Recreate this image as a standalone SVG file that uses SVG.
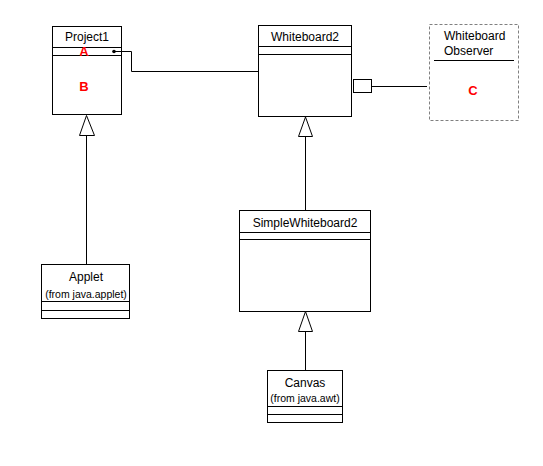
<svg xmlns="http://www.w3.org/2000/svg" width="543" height="466" viewBox="0 0 543 466">
<style>
.box{fill:#fff;stroke:#000;stroke-width:1}
.ln{stroke:#000;stroke-width:1;fill:none}
.t{font-family:"Liberation Sans",Arial,sans-serif;font-size:12px;fill:#000}
.s{font-family:"Liberation Sans",Arial,sans-serif;font-size:10.5px;fill:#000}
.r{font-family:"Liberation Sans",Arial,sans-serif;font-size:13px;font-weight:bold;fill:#f00}
.tri{fill:#fff;stroke:#000;stroke-width:1}
</style>
<rect x="0" y="0" width="543" height="466" fill="#fff"/>
<g id="project1">
<rect class="box" x="52.5" y="26.5" width="69" height="88"/>
<path class="ln" d="M52.5 47.5 H121.5 M52.5 55.5 H121.5"/>
<text class="t" x="87" y="41" text-anchor="middle">Project1</text>
<text class="r" x="84" y="56" text-anchor="middle">A</text>
<text class="r" x="84" y="91" text-anchor="middle">B</text>
</g>
<g id="whiteboard2">
<rect class="box" x="258.5" y="25.5" width="93" height="91"/>
<path class="ln" d="M258.5 46.5 H351.5 M258.5 54.5 H351.5"/>
<text class="t" x="305" y="41" text-anchor="middle">Whiteboard2</text>
</g>
<g id="whiteboardObserver">
<rect x="429.5" y="24.5" width="89" height="96" fill="#fff" stroke="#808080" stroke-width="1" stroke-dasharray="3,2"/>
<path class="ln" d="M434 60.5 H514"/>
<text class="t" x="444" y="40">Whiteboard</text>
<text class="t" x="444" y="55">Observer</text>
<text class="r" x="473" y="95" text-anchor="middle">C</text>
</g>
<g id="applet">
<rect class="box" x="41.5" y="264.5" width="88" height="54"/>
<path class="ln" d="M41.5 301.5 H129.5 M41.5 310.5 H129.5"/>
<text class="t" x="86" y="281" text-anchor="middle">Applet</text>
<text class="s" x="86" y="298" text-anchor="middle">(from java.applet)</text>
</g>
<g id="simpleWhiteboard2">
<rect class="box" x="239.5" y="210.5" width="131" height="101"/>
<path class="ln" d="M239.5 232.5 H370.5 M239.5 239.5 H370.5"/>
<text class="t" x="305" y="227" text-anchor="middle">SimpleWhiteboard2</text>
</g>
<g id="canvas">
<rect class="box" x="267.5" y="370.5" width="75" height="52"/>
<path class="ln" d="M267.5 406.5 H342.5 M267.5 414.5 H342.5"/>
<text class="t" x="305" y="387" text-anchor="middle">Canvas</text>
<text class="s" x="305" y="402" text-anchor="middle">(from java.awt)</text>
</g>
<g id="connectors">
<path class="ln" d="M86.5 135 V264"/>
<path class="tri" d="M86.5 115.5 L79.5 135.5 H94.5 Z"/>
<path class="ln" d="M305.5 136 V210"/>
<path class="tri" d="M305.5 117 L298.5 136.5 H312.5 Z"/>
<path class="ln" d="M305.5 331 V370"/>
<path class="tri" d="M305.5 311.5 L298.5 331.5 H312.5 Z"/>
<path class="ln" d="M114 51.5 H131.5 V71.5 H258"/>
<circle cx="114" cy="51.5" r="1.8" fill="#000"/>
<rect class="box" x="353.5" y="79.5" width="18" height="13"/>
<path class="ln" d="M371.5 86.5 H427"/>
</g>
</svg>
